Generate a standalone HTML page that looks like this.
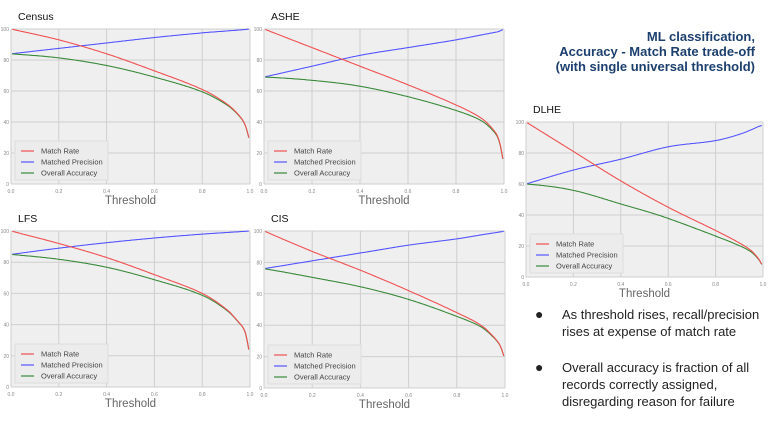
<!DOCTYPE html>
<html><head><meta charset="utf-8"><style>
body{margin:0;width:768px;height:432px;background:#fff;overflow:hidden;font-family:"Liberation Sans",sans-serif;position:relative}
.title{position:absolute;right:13px;top:29px;text-align:right;color:#1c3f6e;font-weight:bold;font-size:13px;line-height:15px}
.b{position:absolute;left:562px;font-size:13px;line-height:17px;color:#222;width:200px}
.dot{position:absolute;left:535px;font-size:14px;color:#222}
</style></head><body>
<svg id="s" width="768" height="432" style="position:absolute;left:0;top:0"></svg>
<div class="title">ML classification,<br>Accuracy - Match Rate trade-off<br>(with single universal threshold)</div>
<div class="dot" style="top:306px">●</div>
<div class="b" style="top:306px">As threshold rises, recall/precision rises at expense of match rate</div>
<div class="dot" style="top:359px">●</div>
<div class="b" style="top:359px">Overall accuracy is fraction of all records correctly assigned, disregarding reason for failure</div>
<script>
const T=[0,0.2,0.4,0.6,0.8,0.9,0.95,0.98,1.0];
const charts=[
{n:"Census",x0:11,x1:250,y0:29,y1:184,mr:[100,93,84,73,61,52,45,38,27],p:[84,87.5,91,94.5,97.5,98.7,99.3,99.7,100]},
{n:"ASHE",x0:264,x1:504,y0:29,y1:184,mr:[100,88,76,64,51,43,36,28,12],p:[69,76,83,88,93,96,97.5,98.5,100]},
{n:"LFS",x0:11,x1:250,y0:231,y1:387,mr:[100,92,83,72,60,50,42,35,20],p:[85,89,92.5,95.5,98,99,99.5,99.8,100]},
{n:"CIS",x0:264,x1:505,y0:231,y1:388,mr:[100,87,75,62,48,40,33,27,18],p:[76,81,86,91,95,97.5,98.7,99.4,100]},
{n:"DLHE",x0:526,x1:763,y0:122,y1:277,mr:[100,81,62,45,30,22,17,12,7],p:[60,69,76,84,88,92,95,97,98]}
];
function interp(a,t){for(let i=0;i<T.length-1;i++){if(t<=T[i+1]){const u=(t-T[i])/(T[i+1]-T[i]);
const p0=a[Math.max(0,i-1)],p1=a[i],p2=a[i+1],p3=a[Math.min(a.length-1,i+2)];
const m1=(p2-p0)/((T[i+1]-T[Math.max(0,i-1)])||1)*(T[i+1]-T[i]),m2=(p3-p1)/((T[Math.min(T.length-1,i+2)]-T[i])||1)*(T[i+1]-T[i]);
const u2=u*u,u3=u2*u;return (2*u3-3*u2+1)*p1+(u3-2*u2+u)*m1+(-2*u3+3*u2)*p2+(u3-u2)*m2;}}return a[a.length-1];}
let h="";
for(const c of charts){
 const X=t=>c.x0+t*(c.x1-c.x0),Y=v=>c.y1-v/100*(c.y1-c.y0);
 h+=`<rect x="${c.x0}" y="${c.y0}" width="${c.x1-c.x0}" height="${c.y1-c.y0}" fill="#efefef"/>`;
 for(let i=0;i<=5;i++){const x=X(i/5),y=Y(i*20);
  h+=`<line x1="${x}" y1="${c.y0}" x2="${x}" y2="${c.y1}" stroke="#cfcfcf" stroke-width="1"/>`;
  h+=`<line x1="${c.x0}" y1="${y}" x2="${c.x1}" y2="${y}" stroke="#cfcfcf" stroke-width="1"/>`;
  h+=`<text x="${x}" y="${c.y1+9}" font-size="5" fill="#888" text-anchor="middle">${(i/5).toFixed(1)}</text>`;
  h+=`<text x="${c.x0-2}" y="${y+2}" font-size="5" fill="#888" text-anchor="end">${i*20}</text>`;}
 h+=`<text x="${(c.x0+c.x1)/2}" y="${c.y1+20}" font-size="11.5" fill="#666" text-anchor="middle">Threshold</text>`;
 h+=`<text x="${c.x0+7}" y="${c.y0-9}" font-size="10.5" fill="#111">${c.n}</text>`;
 let a="",b="",g="";
 for(let k=0;k<=200;k++){const t=0.005+k/200*0.99;const m=interp(c.mr,t),p=interp(c.p,t);
  const s=k?"L":"M";a+=s+X(t).toFixed(1)+","+Y(m).toFixed(1);b+=s+X(t).toFixed(1)+","+Y(p).toFixed(1);g+=s+X(t).toFixed(1)+","+Y(m*p/100).toFixed(1);}
 h+=`<path d="${b}" fill="none" stroke="#5555ff" stroke-width="1.1"/><path d="${g}" fill="none" stroke="#3a8a3a" stroke-width="1.1"/><path d="${a}" fill="none" stroke="#f05050" stroke-width="1.1"/>`;
 const lx=c.x0+4,ly=c.y1-43;
 h+=`<rect x="${lx}" y="${ly}" width="93" height="39" fill="#ececec" stroke="#ddd"/>`;
 [["Match Rate","#f05050"],["Matched Precision","#5555ff"],["Overall Accuracy","#3a8a3a"]].forEach((e,i)=>{const yy=ly+10+i*11;
  h+=`<line x1="${lx+6}" y1="${yy}" x2="${lx+19}" y2="${yy}" stroke="${e[1]}" stroke-width="1.2"/><text x="${lx+26}" y="${yy+2.5}" font-size="7.5" fill="#444">${e[0]}</text>`;});
}
document.getElementById("s").innerHTML=h;
</script>
</body></html>
